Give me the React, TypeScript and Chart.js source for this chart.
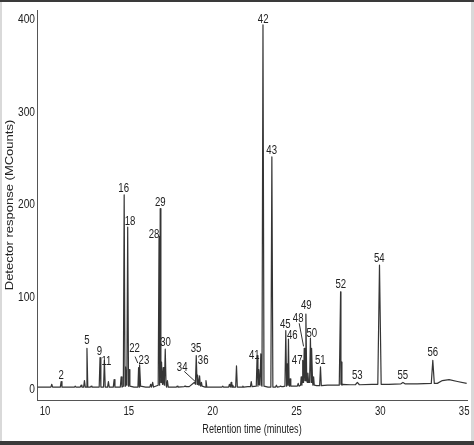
import React, { useEffect, useRef } from "react";
import { Chart, registerables } from "chart.js";

Chart.register(...registerables);

// Axis ticks
const xTicks = [10, 15, 20, 25, 30, 35];
const yTicks = [0, 100, 200, 300, 400];
const xTitle = "Retention time (minutes)";
const yTitle = "Detector response (MCounts)";

// Baseline readings (minutes, MCounts)
const baseTimes = [9.55, 11.2, 12.0, 13.0, 14.0, 15.3, 16.0, 17.6, 18.6, 18.9, 19.8, 20.3, 21.6, 22.1, 23.3, 24.2, 24.8, 26.2, 27.2, 28.2, 29.5, 30.5, 32.2, 33.4, 33.7, 34.1, 34.6, 35.15];
const baseValues = [3, 3, 3, 3, 3, 3, 3, 3, 3.5, 8, 3, 3, 3, 3.5, 3, 3.5, 4, 4.5, 5, 5.5, 6, 6, 6.5, 7, 10, 11, 9, 7];

// Peaks
const peakTimes = [10.4, 10.96, 11.8, 12.15, 12.35, 12.5, 12.75, 13.28, 13.54, 13.78, 14.12, 14.54, 14.72, 14.82, 14.93, 15.02, 15.58, 15.66, 16.3, 16.42, 16.8, 16.87, 16.95, 17.05, 17.17, 17.3, 17.88, 18.35, 19.02, 19.12, 19.22, 19.33, 19.6, 20.6, 21.0, 21.1, 21.2, 21.42, 21.8, 22.3, 22.65, 22.75, 22.87, 23.0, 23.53, 23.8, 24.05, 24.36, 24.45, 24.52, 24.62, 25.1, 25.28, 25.37, 25.46, 25.56, 25.68, 25.83, 25.92, 26.02, 26.43, 26.9, 27.63, 27.7, 28.63, 29.95, 31.35, 33.13];
const peakHeights = [6, 9, 4, 5, 10, 45, 4, 35, 32, 9, 11, 14, 211, 25, 176, 22, 24, 27, 6, 8, 166, 196, 30, 24, 44, 10, 4, 4, 37, 16, 15, 8, 10, 4, 6, 8, 5, 26, 4, 9, 37, 22, 39, 395, 252, 5, 4, 64, 28, 55, 12, 7, 14, 32, 45, 82, 18, 56, 45, 14, 25, 5, 106, 30, 8, 135, 8, 32];
const peakBases = [3, 3, 3, 3, 3, 3, 3, 3, 3, 3, 3, 3, 4, 6, 5, 4, 3, 4, 3, 3, 5, 8, 8, 6, 5, 3, 3, 3.5, 6, 6, 5, 4, 3, 3, 3, 3, 3, 3, 3, 3.5, 4, 6, 5, 4, 3, 3, 3.5, 4, 6, 5, 4, 4, 5, 8, 10, 10, 8, 8, 8, 5, 4.5, 5, 5, 6, 5.5, 6, 6.5, 7];
const peakHalfWidths = [0.05, 0.05, 0.05, 0.05, 0.05, 0.05, 0.05, 0.05, 0.05, 0.05, 0.05, 0.05, 0.05, 0.04, 0.05, 0.04, 0.04, 0.04, 0.05, 0.05, 0.05, 0.05, 0.04, 0.04, 0.05, 0.05, 0.05, 0.05, 0.05, 0.04, 0.04, 0.04, 0.05, 0.05, 0.05, 0.04, 0.04, 0.05, 0.05, 0.05, 0.05, 0.04, 0.05, 0.06, 0.06, 0.05, 0.05, 0.05, 0.04, 0.04, 0.04, 0.05, 0.04, 0.04, 0.04, 0.05, 0.04, 0.05, 0.04, 0.04, 0.05, 0.05, 0.08, 0.05, 0.12, 0.1, 0.12, 0.09];

// Peak number labels (anchor in data coordinates)
const labelTexts = ["2", "5", "9", "11", "16", "18", "22", "23", "28", "29", "30", "34", "35", "36", "41", "42", "43", "45", "46", "47", "48", "49", "50", "51", "52", "53", "54", "55", "56"];
const labelTimes = [10.96, 12.5, 13.25, 13.66, 14.69, 15.07, 15.34, 15.9, 16.5, 16.87, 17.19, 18.18, 19.01, 19.43, 22.48, 23.01, 23.52, 24.33, 24.75, 25.04, 25.1, 25.58, 25.91, 26.42, 27.64, 28.63, 29.94, 31.34, 33.13];
const labelValues = [15, 53, 41, 30, 218, 182, 44, 32, 168, 203, 51, 24, 44, 31, 37, 401, 259, 70, 59, 31, 77, 91, 61, 31, 114, 15, 142, 15, 40];

// Leader lines [t1, v1, t2, v2]
const leaderLines = [
  [15.37, 36, 15.53, 29],
  [18.3, 20, 18.96, 9],
  [25.16, 72, 25.42, 47],
];

const FONT = "'Liberation Sans', Arial, sans-serif";
const SQUEEZE = 0.8;

function squeezedText(ctx: any, txt: string, x: number, y: number, align: string, squeeze: number) {
  ctx.save();
  ctx.translate(x, y);
  ctx.scale(squeeze, 1);
  ctx.textAlign = align;
  ctx.textBaseline = "middle";
  ctx.fillText(txt, 0, 0);
  ctx.restore();
}

const textPlugin = {
  id: "chromText",
  afterDatasetsDraw(chart: any) {
    const { ctx, scales } = chart;
    const xs = scales.x;
    const ys = scales.y;
    ctx.save();
    ctx.fillStyle = "#222";
    ctx.font = `12px ${FONT}`;
    // peak labels
    labelTexts.forEach((txt, i) => {
      squeezedText(ctx, txt, xs.getPixelForValue(labelTimes[i]), ys.getPixelForValue(labelValues[i]), "center", SQUEEZE);
    });
    // axis tick labels
    xTicks.forEach((v) => {
      squeezedText(ctx, String(v), xs.getPixelForValue(v), xs.top + 11.5, "center", SQUEEZE);
    });
    yTicks.forEach((v) => {
      squeezedText(ctx, String(v), ys.right - 2, ys.getPixelForValue(v), "right", 0.85);
    });
    // x title
    squeezedText(ctx, xTitle, (chart.chartArea.left + chart.chartArea.right) / 2, xs.top + 30, "center", 0.76);
    // y title
    ctx.save();
    ctx.font = `13px ${FONT}`;
    ctx.translate(ys.left + 10, (chart.chartArea.top + chart.chartArea.bottom) / 2);
    ctx.rotate(-Math.PI / 2);
    ctx.scale(1, 0.85);
    ctx.textAlign = "center";
    ctx.textBaseline = "middle";
    ctx.fillText(yTitle, 0, 0);
    ctx.restore();
    // leader lines
    ctx.strokeStyle = "#333";
    ctx.lineWidth = 1;
    leaderLines.forEach((l) => {
      ctx.beginPath();
      ctx.moveTo(xs.getPixelForValue(l[0]), ys.getPixelForValue(l[1]));
      ctx.lineTo(xs.getPixelForValue(l[2]), ys.getPixelForValue(l[3]));
      ctx.stroke();
    });
    ctx.restore();
  },
};

export default function App() {
  const ref = useRef<HTMLCanvasElement>(null);

  useEffect(() => {
    if (!ref.current) return;
    const pts: { x: number; y: number }[] = [];
    baseTimes.forEach((t, i) => pts.push({ x: t, y: baseValues[i] }));
    peakTimes.forEach((t, i) => {
      const w = peakHalfWidths[i];
      pts.push({ x: t - w, y: peakBases[i] });
      pts.push({ x: t, y: peakHeights[i] });
      pts.push({ x: t + w, y: peakBases[i] });
    });
    pts.sort((a, b) => a.x - b.x);

    const chart = new Chart(ref.current, {
      type: "line",
      data: {
        datasets: [
          {
            data: pts,
            borderColor: "#353535",
            borderWidth: 1.2,
            borderJoinStyle: "round",
            pointRadius: 0,
            fill: false,
            tension: 0,
          },
        ],
      },
      options: {
        animation: false,
        responsive: false,
        events: [],
        layout: { padding: { top: 10, right: 7, left: 0, bottom: 0 } },
        plugins: { legend: { display: false }, tooltip: { enabled: false } },
        scales: {
          x: {
            type: "linear",
            min: 9.52,
            max: 35.17,
            grid: { display: false, drawTicks: false, tickLength: 0 },
            border: { display: true, color: "#555", width: 1 },
            ticks: { display: false },
            title: { display: false },
            afterBuildTicks: (s: any) => {
              s.ticks = xTicks.map((v) => ({ value: v }));
            },
            afterFit: (s: any) => {
              s.height = 45;
              s.paddingLeft = 0;
              s.paddingRight = 0;
            },
          },
          y: {
            type: "linear",
            min: -11,
            max: 411,
            grid: { display: false, drawTicks: false, tickLength: 0 },
            border: { display: true, color: "#555", width: 1 },
            ticks: { display: false },
            title: { display: false },
            afterBuildTicks: (s: any) => {
              s.ticks = yTicks.map((v) => ({ value: v }));
            },
            afterFit: (s: any) => {
              s.width = 37;
              s.paddingTop = 0;
              s.paddingBottom = 0;
            },
          },
        },
      },
      plugins: [textPlugin],
    });
    return () => chart.destroy();
  }, []);

  return (
    <div style={{ position: "fixed", left: 0, top: 0, width: 474, height: 445, background: "#fff", overflow: "hidden" }}>
      <canvas ref={ref} width={474} height={445} style={{ display: "block" }} />
      <div style={{ position: "absolute", left: 0, top: 0, width: 474, height: 2, background: "#3a3a3a" }} />
      <div style={{ position: "absolute", left: 0, top: 441, width: 474, height: 4, background: "#3a3a3a" }} />
      <div style={{ position: "absolute", left: 0, top: 2, width: 2, height: 439, background: "#d9d9d9" }} />
      <div style={{ position: "absolute", left: 471, top: 2, width: 3, height: 439, background: "#d9d9d9" }} />
    </div>
  );
}
